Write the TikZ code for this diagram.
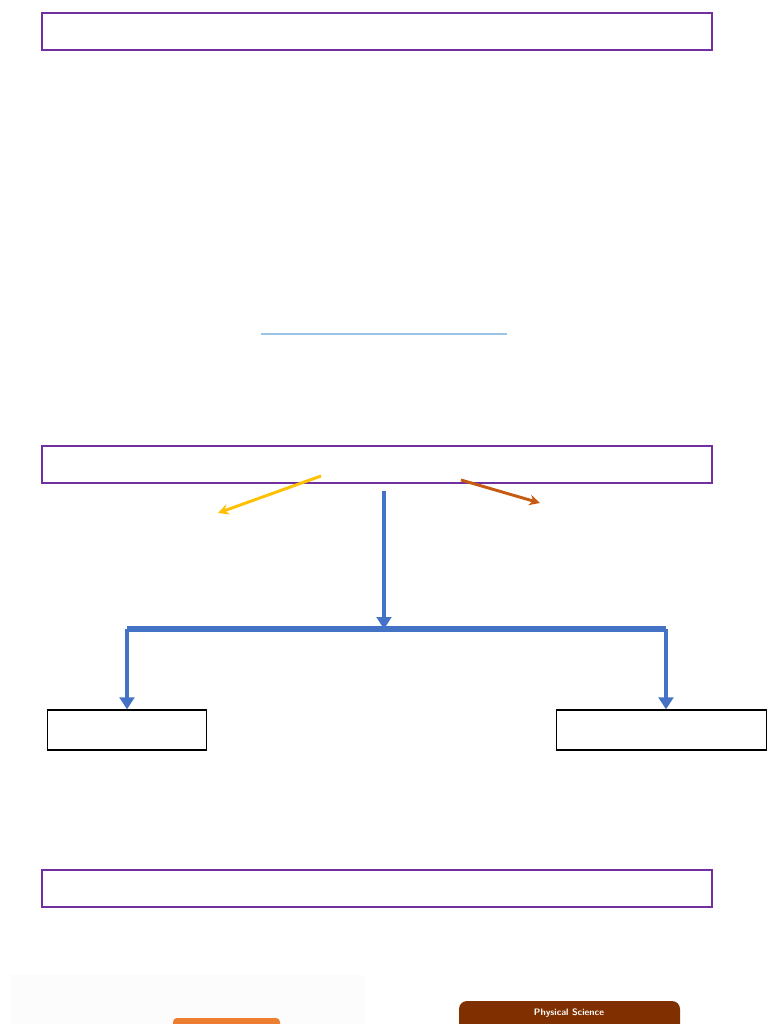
\documentclass[tikz,border=0pt]{standalone}
\usetikzlibrary{arrows.meta}
\definecolor{purp}{RGB}{112,48,160}
\definecolor{blu}{RGB}{68,114,196}
\definecolor{yel}{RGB}{255,192,0}
\definecolor{org}{RGB}{197,90,17}
\definecolor{brn}{RGB}{128,48,0}
\definecolor{orn}{RGB}{237,125,49}
\definecolor{lblu}{RGB}{157,195,230}
\tikzset{bar/.style={draw=purp,line width=1.6pt},
 box/.style={draw=black,line width=1pt},
 flow/.style={blu,line width=3pt,-{Triangle[length=9pt,width=11pt]}},
 thin arrow/.style={line width=2.2pt,-{Stealth[length=8pt,width=8pt]}}}
\begin{document}
\begin{tikzpicture}[x=0.75pt,y=-0.75pt]
\useasboundingbox (0,0) rectangle (768,1024);
\fill[white] (0,0) rectangle (768,1024);
\draw[bar] (42,13) rectangle (712,50);
\draw[lblu,line width=1pt] (261,334) -- (507,334);
\draw[bar] (42,446) rectangle (712,483);
\coordinate (ys) at (321,476); \coordinate (ye) at (218,513);
\coordinate (os) at (461,480); \coordinate (oe) at (540,503);
\draw[thin arrow,yel] (ys) -- (ye);
\draw[thin arrow,org] (os) -- (oe);
\coordinate (vs) at (384,491); \coordinate (hm) at (384,629);
\coordinate (hl) at (127,629); \coordinate (hr) at (666,629);
\draw[flow] (vs) -- (hm);
\draw[blu,line width=4pt] (hl) -- (hr);
\node[box,minimum width=119.25pt,minimum height=30pt,inner sep=0pt] (lb) at (127,730) {};
\node[box,minimum width=157.5pt,minimum height=30pt,inner sep=0pt] (rb) at (661.5,730) {};
\draw[flow] (hl) -- (hl|-lb.north);
\draw[flow] (hr) -- (hr|-rb.north);
\draw[bar] (42,870) rectangle (712,907);
\fill[gray!2] (10,975) rectangle (365,1024);
\fill[orn,rounded corners=3pt] (173,1018) rectangle (280,1030);
\fill[brn,rounded corners=6pt] (459,1001) rectangle (680,1035);
\node[text=white,font=\sffamily\bfseries\fontsize{7}{8}\selectfont] (ps) at (569,1013) {Physical Science};
\end{tikzpicture}
\end{document}
